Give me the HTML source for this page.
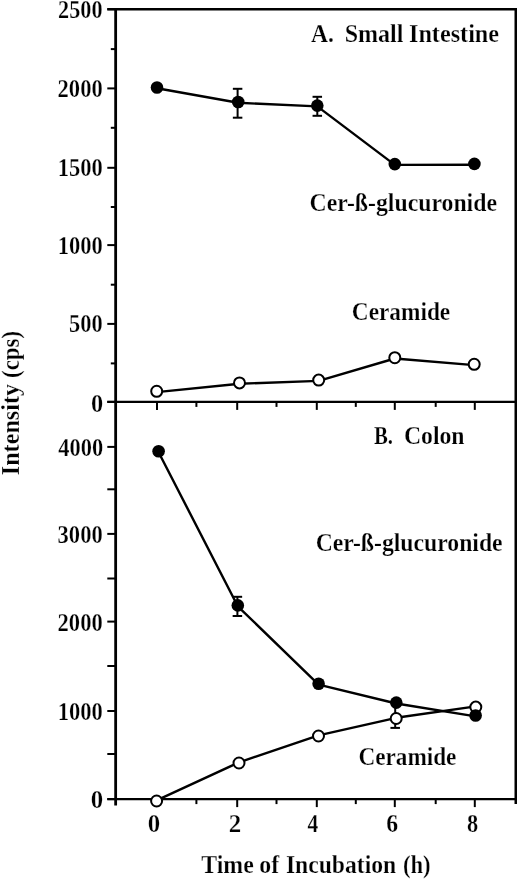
<!DOCTYPE html>
<html><head><meta charset="utf-8"><title>Intensity vs Time of Incubation</title>
<style>
html,body{margin:0;padding:0;background:#fff;}
body{width:520px;height:880px;overflow:hidden;}
svg{display:block;}
</style></head>
<body>
<svg width="520" height="880" viewBox="0 0 520 880">
<rect width="520" height="880" fill="#fff"/>
<g stroke="#000" stroke-linecap="butt" fill="none">
<line x1="115.65" y1="8" x2="115.65" y2="805.5" stroke-width="2.8"/>
<line x1="515.75" y1="8" x2="515.75" y2="804" stroke-width="2.5"/>
<line x1="107.3" y1="9.2" x2="517" y2="9.2" stroke-width="2.4"/>
<line x1="107.3" y1="401.9" x2="517" y2="401.9" stroke-width="2.3"/>
<line x1="107.3" y1="799.1" x2="517" y2="799.1" stroke-width="2.4"/>
<line x1="107.3" y1="9.2" x2="115.65" y2="9.2" stroke-width="2"/>
<line x1="110.8" y1="49.1" x2="115.65" y2="49.1" stroke-width="2"/>
<line x1="107.3" y1="88.4" x2="115.65" y2="88.4" stroke-width="2"/>
<line x1="110.8" y1="127.8" x2="115.65" y2="127.8" stroke-width="2"/>
<line x1="107.3" y1="167.8" x2="115.65" y2="167.8" stroke-width="2"/>
<line x1="110.8" y1="207" x2="115.65" y2="207" stroke-width="2"/>
<line x1="107.3" y1="245.1" x2="115.65" y2="245.1" stroke-width="2"/>
<line x1="110.8" y1="284.7" x2="115.65" y2="284.7" stroke-width="2"/>
<line x1="107.3" y1="323.9" x2="115.65" y2="323.9" stroke-width="2"/>
<line x1="110.8" y1="363.4" x2="115.65" y2="363.4" stroke-width="2"/>
<line x1="107.3" y1="401.9" x2="115.65" y2="401.9" stroke-width="2"/>
<line x1="107.3" y1="446.9" x2="115.65" y2="446.9" stroke-width="2"/>
<line x1="107.3" y1="489.3" x2="115.65" y2="489.3" stroke-width="2"/>
<line x1="107.3" y1="533.9" x2="115.65" y2="533.9" stroke-width="2"/>
<line x1="107.3" y1="578.5" x2="115.65" y2="578.5" stroke-width="2"/>
<line x1="107.3" y1="621.6" x2="115.65" y2="621.6" stroke-width="2"/>
<line x1="107.3" y1="666" x2="115.65" y2="666" stroke-width="2"/>
<line x1="107.3" y1="711" x2="115.65" y2="711" stroke-width="2"/>
<line x1="107.3" y1="754" x2="115.65" y2="754" stroke-width="2"/>
<line x1="107.3" y1="799.1" x2="115.65" y2="799.1" stroke-width="2"/>
<line x1="157" y1="401.9" x2="157" y2="409.9" stroke-width="2"/>
<line x1="157" y1="799.1" x2="157" y2="807.1" stroke-width="2"/>
<line x1="196.4" y1="401.9" x2="196.4" y2="406.9" stroke-width="2"/>
<line x1="196.4" y1="799.1" x2="196.4" y2="804.1" stroke-width="2"/>
<line x1="237.2" y1="401.9" x2="237.2" y2="409.9" stroke-width="2"/>
<line x1="237.2" y1="799.1" x2="237.2" y2="807.1" stroke-width="2"/>
<line x1="276.5" y1="401.9" x2="276.5" y2="406.9" stroke-width="2"/>
<line x1="276.5" y1="799.1" x2="276.5" y2="804.1" stroke-width="2"/>
<line x1="316.8" y1="401.9" x2="316.8" y2="409.9" stroke-width="2"/>
<line x1="316.8" y1="799.1" x2="316.8" y2="807.1" stroke-width="2"/>
<line x1="355.8" y1="401.9" x2="355.8" y2="406.9" stroke-width="2"/>
<line x1="355.8" y1="799.1" x2="355.8" y2="804.1" stroke-width="2"/>
<line x1="394.8" y1="401.9" x2="394.8" y2="409.9" stroke-width="2"/>
<line x1="394.8" y1="799.1" x2="394.8" y2="807.1" stroke-width="2"/>
<line x1="435.7" y1="401.9" x2="435.7" y2="406.9" stroke-width="2"/>
<line x1="435.7" y1="799.1" x2="435.7" y2="804.1" stroke-width="2"/>
<line x1="474.8" y1="401.9" x2="474.8" y2="409.9" stroke-width="2"/>
<line x1="474.8" y1="799.1" x2="474.8" y2="807.1" stroke-width="2"/>
</g>
<polyline fill="none" stroke="#000" stroke-width="2.4" stroke-linejoin="round" points="157,88.3 238.2,102.8 317.3,106.4 394.8,164.9 474.4,164.7"/>
<polyline fill="none" stroke="#000" stroke-width="2.4" stroke-linejoin="round" points="156.7,392.1 239.5,383.7 318.7,380.9 394.8,358.5 474.2,365.1"/>
<polyline fill="none" stroke="#000" stroke-width="2.4" stroke-linejoin="round" points="158.6,452.2 237.8,606.3 318.6,684.6 396.3,703.5 475.6,716.4"/>
<polyline fill="none" stroke="#000" stroke-width="2.4" stroke-linejoin="round" points="156.6,800.3 239,762.3 318.5,735.3 396.2,717.8 475.8,706.4"/>
<g stroke="#000" stroke-width="2" fill="none"><line x1="237.6" y1="88.8" x2="237.6" y2="117.7"/><line x1="232.85" y1="88.8" x2="242.35" y2="88.8"/><line x1="232.85" y1="117.7" x2="242.35" y2="117.7"/></g>
<g stroke="#000" stroke-width="2" fill="none"><line x1="317.3" y1="96.8" x2="317.3" y2="115.8"/><line x1="312.55" y1="96.8" x2="322.05" y2="96.8"/><line x1="312.55" y1="115.8" x2="322.05" y2="115.8"/></g>
<g stroke="#000" stroke-width="2" fill="none"><line x1="237.4" y1="596.8" x2="237.4" y2="616"/><line x1="232.65" y1="596.8" x2="242.15" y2="596.8"/><line x1="232.65" y1="616" x2="242.15" y2="616"/></g>
<g stroke="#000" stroke-width="2" fill="none"><line x1="395.2" y1="702.6" x2="395.2" y2="727.9"/><line x1="390.45" y1="702.6" x2="399.95" y2="702.6"/><line x1="390.45" y1="727.9" x2="399.95" y2="727.9"/></g>
<circle cx="156.7" cy="391.3" r="5.5" fill="#fff" stroke="#000" stroke-width="2"/>
<circle cx="239.5" cy="382.9" r="5.5" fill="#fff" stroke="#000" stroke-width="2"/>
<circle cx="318.7" cy="380.1" r="5.5" fill="#fff" stroke="#000" stroke-width="2"/>
<circle cx="394.8" cy="357.7" r="5.5" fill="#fff" stroke="#000" stroke-width="2"/>
<circle cx="474.2" cy="364.3" r="5.5" fill="#fff" stroke="#000" stroke-width="2"/>
<circle cx="157" cy="87.5" r="6.3" fill="#000"/>
<circle cx="238.2" cy="102" r="6.3" fill="#000"/>
<circle cx="317.3" cy="105.6" r="6.3" fill="#000"/>
<circle cx="394.8" cy="164.1" r="6.3" fill="#000"/>
<circle cx="474.4" cy="163.9" r="6.3" fill="#000"/>
<circle cx="156.6" cy="801" r="5.5" fill="#fff" stroke="#000" stroke-width="2"/>
<circle cx="239" cy="763" r="5.5" fill="#fff" stroke="#000" stroke-width="2"/>
<circle cx="318.5" cy="736" r="5.5" fill="#fff" stroke="#000" stroke-width="2"/>
<circle cx="396.2" cy="718.5" r="5.5" fill="#fff" stroke="#000" stroke-width="2"/>
<circle cx="475.8" cy="707.1" r="5.5" fill="#fff" stroke="#000" stroke-width="2"/>
<circle cx="158.6" cy="451.3" r="6.3" fill="#000"/>
<circle cx="237.8" cy="605.4" r="6.3" fill="#000"/>
<circle cx="318.6" cy="683.7" r="6.3" fill="#000"/>
<circle cx="396.3" cy="702.6" r="6.3" fill="#000"/>
<circle cx="475.6" cy="715.5" r="6.3" fill="#000"/>
<g font-family='"Liberation Serif", "DejaVu Serif", serif' font-weight="bold" fill="#000" stroke="#fff" stroke-width="0.25">
<text x="311.01" y="41.7" textLength="22.93" lengthAdjust="spacingAndGlyphs" font-size="24.5">A.</text>
<text x="344.67" y="41.7" textLength="58.72" lengthAdjust="spacingAndGlyphs" font-size="24.5">Small</text>
<text x="408.96" y="41.7" textLength="90.14" lengthAdjust="spacingAndGlyphs" font-size="24.5">Intestine</text>
<text x="309.59" y="211.3" textLength="187.37" lengthAdjust="spacingAndGlyphs" font-size="24.5">Cer-ß-glucuronide</text>
<text x="351.81" y="319.8" textLength="98.43" lengthAdjust="spacingAndGlyphs" font-size="24.5">Ceramide</text>
<text x="373.88" y="443.5" textLength="19.06" lengthAdjust="spacingAndGlyphs" font-size="24.5">B.</text>
<text x="403.89" y="443.5" textLength="60.69" lengthAdjust="spacingAndGlyphs" font-size="24.5">Colon</text>
<text x="315.69" y="550.7" textLength="186.96" lengthAdjust="spacingAndGlyphs" font-size="24.5">Cer-ß-glucuronide</text>
<text x="358.42" y="764.8" textLength="98.02" lengthAdjust="spacingAndGlyphs" font-size="24.5">Ceramide</text>
<text x="201.31" y="872.7" textLength="52.41" lengthAdjust="spacingAndGlyphs" font-size="24.5">Time</text>
<text x="259.23" y="872.7" textLength="19.85" lengthAdjust="spacingAndGlyphs" font-size="24.5">of</text>
<text x="285.88" y="872.7" textLength="110.4" lengthAdjust="spacingAndGlyphs" font-size="24.5">Incubation</text>
<text x="402.88" y="872.7" textLength="27.71" lengthAdjust="spacingAndGlyphs" font-size="24.5">(h)</text>
<text x="58.09" y="17.9" textLength="44.41" lengthAdjust="spacingAndGlyphs" font-size="24.5">2500</text>
<text x="57.58" y="97.2" textLength="45.14" lengthAdjust="spacingAndGlyphs" font-size="24.5">2000</text>
<text x="57.66" y="175.7" textLength="45.06" lengthAdjust="spacingAndGlyphs" font-size="24.5">1500</text>
<text x="57.66" y="253.5" textLength="45.06" lengthAdjust="spacingAndGlyphs" font-size="24.5">1000</text>
<text x="69.08" y="332.2" textLength="33.63" lengthAdjust="spacingAndGlyphs" font-size="24.5">500</text>
<text x="91.1" y="411.5" textLength="12.19" lengthAdjust="spacingAndGlyphs" font-size="24.5">0</text>
<text x="58.27" y="455.5" textLength="44.84" lengthAdjust="spacingAndGlyphs" font-size="24.5">4000</text>
<text x="57.58" y="543.3" textLength="45.14" lengthAdjust="spacingAndGlyphs" font-size="24.5">3000</text>
<text x="57.58" y="630.5" textLength="45.14" lengthAdjust="spacingAndGlyphs" font-size="24.5">2000</text>
<text x="57.66" y="719.7" textLength="45.06" lengthAdjust="spacingAndGlyphs" font-size="24.5">1000</text>
<text x="90.89" y="807.5" textLength="12.43" lengthAdjust="spacingAndGlyphs" font-size="24.5">0</text>
<text x="147.89" y="831.5" textLength="12.43" lengthAdjust="spacingAndGlyphs" font-size="24.5">0</text>
<text x="228.79" y="831.5" textLength="12.43" lengthAdjust="spacingAndGlyphs" font-size="24.5">2</text>
<text x="307.58" y="831.5" textLength="10.76" lengthAdjust="spacingAndGlyphs" font-size="24.5">4</text>
<text x="386.17" y="831.5" textLength="11.85" lengthAdjust="spacingAndGlyphs" font-size="24.5">6</text>
<text x="467.12" y="831.5" textLength="11.17" lengthAdjust="spacingAndGlyphs" font-size="24.5">8</text>
<text transform="translate(18.6,474.5) rotate(-90)" x="-0.74" y="0" textLength="91.36" lengthAdjust="spacingAndGlyphs" font-size="24.5">Intensity</text>
<text transform="translate(18.6,377.0) rotate(-90)" x="-0.93" y="0" textLength="47.07" lengthAdjust="spacingAndGlyphs" font-size="24.5">(cps)</text>
</g>
</svg>
</body></html>
